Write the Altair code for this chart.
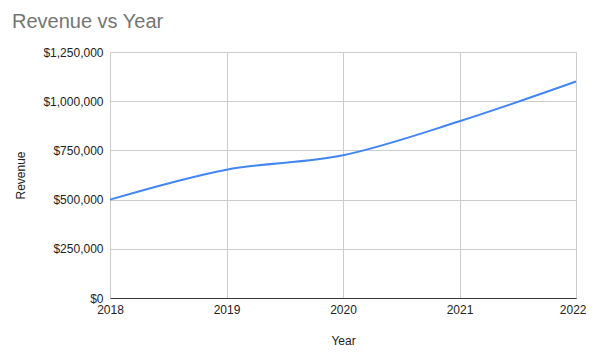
import altair as alt
import pandas as pd

years = [2018, 2019, 2020, 2021, 2022]
revenue = [500000, 652000, 725000, 898000, 1100000]

df = pd.DataFrame({"Year": years, "Revenue": revenue})

FONT = "Liberation Sans"

chart = alt.Chart(df).mark_line(
    interpolate="monotone", color="#4285F4", strokeWidth=2
).encode(
    x=alt.X(
        "Year:Q",
        scale=alt.Scale(domain=[2018, 2022], nice=False, zero=False),
        axis=alt.Axis(
            values=years, format="d", title="Year", grid=True, ticks=False,
            domain=True, domainColor="#333333", gridColor="#cccccc",
            labelFont=FONT, labelFontSize=12, labelColor="#222222", labelPadding=6,
            labelAlign=alt.expr("datum.value == 2022 ? 'right' : 'center'"),
            labelOffset=alt.expr("datum.value == 2022 ? 10 : 0"),
            titleFont=FONT, titleFontSize=12, titleFontWeight="normal", titleColor="#222222",
            titleX=233, titleY=42, titleBaseline="middle", titleAnchor="middle",
            labelFlush=False,
        ),
    ),
    y=alt.Y(
        "Revenue:Q",
        scale=alt.Scale(domain=[0, 1250000], nice=False),
        axis=alt.Axis(
            values=[0, 250000, 500000, 750000, 1000000, 1250000], format="$,d",
            title="Revenue", grid=True, ticks=False, domain=False, gridColor="#cccccc",
            labelFont=FONT, labelFontSize=12, labelColor="#222222", labelPadding=7,
            titleFont=FONT, titleFontSize=12, titleFontWeight="normal", titleColor="#222222",
            titleX=-90, titleY=123, titleBaseline="middle", titleAnchor="middle",
        ),
    ),
).properties(
    width=466,
    height=246,
    title=alt.Title(
        "Revenue vs Year", anchor="start", frame="group", dx=-98,
        font=FONT, fontSize=20, fontWeight="normal", color="#757575", offset=14,
    ),
    autosize=alt.AutoSizeParams(type="none"),
    padding={"left": 102, "top": 44, "right": 10, "bottom": 51},
).configure_view(stroke=None).configure(background="white")

chart.save("out.html", embed_options={"renderer": "svg", "actions": False})
